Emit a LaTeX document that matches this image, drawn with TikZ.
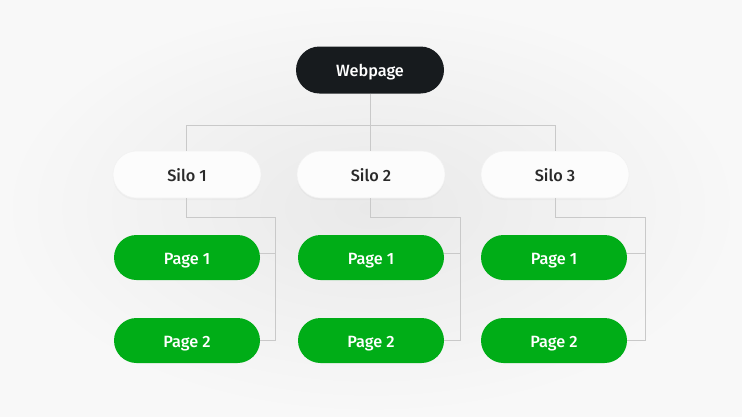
\documentclass[tikz,border=0pt]{standalone}
\usepackage{fontspec}
\IfFontExistsTF{Fira Sans Medium}{\newfontfamily\nodefont{Fira Sans Medium}}{%
  \newfontfamily\nodefont{Noto Sans}[UprightFont=* Bold]}
\usetikzlibrary{shadows,shadings}
\definecolor{bgin}{HTML}{E9E9E9}
\definecolor{bgout}{HTML}{F8F8F8}
\definecolor{darknode}{HTML}{171B1E}
\definecolor{greennode}{HTML}{00AD17}
\definecolor{linegray}{HTML}{C9C9C9}
\definecolor{silotext}{HTML}{2A2A2A}
\tikzset{
  pill/.style={rectangle, rounded corners=23.5pt, minimum width=148pt, minimum height=47pt, inner sep=0pt, text height=13pt, text depth=0pt, font=\nodefont\fontsize{16.3}{18}\selectfont},
  topbox/.style={pill, fill=darknode, text=white},
  silobox/.style={pill, fill=white!60!bgout, draw=black!5, line width=0.6pt, text=silotext, drop shadow={shadow xshift=0pt, shadow yshift=-2pt, opacity=0.05}},
  pagebox/.style={pill, fill=greennode, text=white, minimum width=146pt, minimum height=45pt, rounded corners=22.5pt},
  conn/.style={draw=linegray, line width=0.9pt}
}
\begin{document}
\begin{tikzpicture}[x=1pt,y=-1pt]
\useasboundingbox (0,0) rectangle (742,416);
\shade[inner color=bgin, outer color=bgout] (0,0) rectangle (742,416);
\coordinate (hub) at (370,125);
\coordinate (hl) at (186,125);
\coordinate (hr) at (555.5,125);
\node[topbox] (web) at (370,70) {Webpage};
\node[silobox] (s1) at (187,174.5) {Silo 1};
\node[silobox] (s2) at (371,174.5) {Silo 2};
\node[silobox] (s3) at (555,174.5) {Silo 3};
\foreach \i/\x in {1/187,2/371,3/554}{
  \node[pagebox] (p\i a) at (\x,257.5) {Page 1};
  \node[pagebox] (p\i b) at (\x,340.5) {Page 2};
}
\draw[conn] (web.south) -- (hub);
\draw[conn] (hl) -- (hr);
\draw[conn] (hl) -- (hl |- s1.north);
\draw[conn] (hub) -- (hub |- s2.north);
\draw[conn] (hr) -- (hr |- s3.north);
\foreach \i/\xa/\xb in {1/186/275.5,2/370.5/460,3/555.5/645}{
  \coordinate (t\i) at (\xa,217.5);
  \coordinate (c\i) at (\xb,217.5);
  \coordinate (m\i) at (\xb,253);
  \coordinate (e\i) at (\xb,340.5);
  \draw[conn] (t\i |- s\i.south) -- (t\i) -- (c\i) -- (e\i) -- (p\i b.east);
  \draw[conn] (m\i) -- (m\i -| p\i a.east);
}
\end{tikzpicture}
\end{document}
